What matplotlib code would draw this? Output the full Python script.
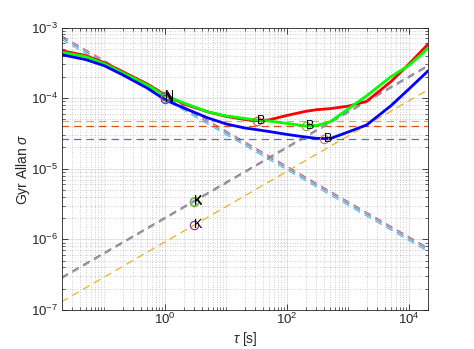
import numpy as np
import matplotlib
matplotlib.use("Agg")
import matplotlib.pyplot as plt
from matplotlib.ticker import LogLocator, NullFormatter, FixedLocator

plt.rcParams["font.family"] = ["Liberation Sans", "DejaVu Sans"]
plt.rcParams["mathtext.fontset"] = "custom"
plt.rcParams["mathtext.rm"] = "Liberation Sans"
plt.rcParams["mathtext.it"] = "Liberation Sans:italic"

# Averaging times [s]
tau = [0.02, 0.05, 0.1, 0.2, 0.5, 1, 2, 5, 10, 20, 30, 50, 100, 200, 300,
       500, 1000, 2000, 5000, 1e4, 2e4]

# Allan deviation of the three gyro axes
adev_x = [4.71e-4, 4.00e-4, 3.18e-4, 2.37e-4, 1.60e-4, 1.11e-4, 8.30e-5, 6.38e-5,
          5.51e-5, 4.99e-5, 4.78e-5, 4.91e-5, 5.70e-5, 6.50e-5, 6.85e-5, 7.10e-5,
          7.70e-5, 9.00e-5, 1.71e-4, 3.07e-4, 5.73e-4]
adev_y = [4.48e-4, 3.87e-4, 3.07e-4, 2.29e-4, 1.55e-4, 1.08e-4, 8.57e-5, 6.38e-5,
          5.60e-5, 5.16e-5, 4.91e-5, 4.75e-5, 4.38e-5, 4.04e-5, 4.10e-5, 4.60e-5,
          7.05e-5, 1.08e-4, 2.01e-4, 2.93e-4, 5.03e-4]
adev_z = [4.13e-4, 3.51e-4, 2.88e-4, 2.14e-4, 1.40e-4, 9.46e-5, 7.28e-5, 5.25e-5,
          4.31e-5, 3.78e-5, 3.60e-5, 3.37e-5, 3.06e-5, 2.81e-5, 2.70e-5, 2.66e-5,
          3.32e-5, 4.17e-5, 7.80e-5, 1.36e-4, 2.40e-4]

# Noise coefficients per axis (x, y, z)
N = [1.08e-4, 1.02e-4, 0.96e-4]        # angle random walk, read at tau = 1 s
K = [1.60e-6, 3.55e-6, 3.40e-6]        # rate random walk, read at tau = 3 s
B_level = [4.78e-5, 4.04e-5, 2.68e-5]  # bias instability level (0.664 B)
tau_B = [31.6, 200, 400]
tau_N = 1.0
tau_K = 3.0

curve_colors = ["#FF0000", "#00FF00", "#0000FF"]
n_colors = ["#B0708C", "#7C8DB8", "#5BC0E8"]
k_colors = ["#EDB120", "#8E6AA0", "#8C9C90"]
b_colors = ["#EDB120", "#D95319", "#3F7CC8"]
n_marker = ["#C04060", "#4DBEEE", "#7E2F8E"]
k_marker = ["#7E2F8E", "#4DBEEE", "#77AC30"]
b_marker = ["#D95319", "#77AC30", "#D07080"]

fig = plt.figure(figsize=(4.74, 3.49), dpi=100)
ax = fig.add_axes([0.1308, 0.1117, 0.7728, 0.8095])

t = np.array(tau)
dash = (0, (6, 4))
for i in range(3):
    ax.loglog(t, N[i] / np.sqrt(t), linestyle=dash, color=n_colors[i], lw=0.9)
    ax.loglog(t, K[i] * np.sqrt(t / tau_K), linestyle=dash, color=k_colors[i], lw=0.9)
    ax.loglog(t, np.full_like(t, B_level[i]), linestyle=dash, color=b_colors[i], lw=0.9)

for d, c in zip([adev_x, adev_y, adev_z], curve_colors):
    ax.loglog(tau, d, color=c, lw=2.0)

for i in range(3):
    ax.plot(tau_N, N[i], "o", mfc="none", mec=n_marker[i], ms=6, mew=0.8)
    ax.plot(tau_K, K[i], "o", mfc="none", mec=k_marker[i], ms=6, mew=0.8)
    ax.plot(tau_B[i], B_level[i], "o", mfc="none", mec=b_marker[i], ms=6, mew=0.8)
    ax.text(tau_N, N[i], "N", fontsize=9, ha="left", va="center", color="k")
    ax.text(tau_K, K[i], "K", fontsize=9, ha="left", va="center", color="k")
    ax.text(tau_B[i], B_level[i], "B", fontsize=9, ha="left", va="center", color="k")

ax.set_xlim(0.0204, 2.05e4)
ax.set_ylim(1e-7, 1e-3)

ax.xaxis.set_major_locator(FixedLocator([1, 100, 1e4]))
ax.xaxis.set_minor_locator(LogLocator(base=10, subs=np.arange(1, 10), numticks=30))
ax.xaxis.set_minor_formatter(NullFormatter())
ax.yaxis.set_major_locator(LogLocator(base=10, numticks=10))
ax.yaxis.set_minor_locator(LogLocator(base=10, subs=np.arange(2, 10), numticks=30))
ax.yaxis.set_minor_formatter(NullFormatter())
ax.set_xticklabels([r"$10^{0}$", r"$10^{2}$", r"$10^{4}$"])

ax.grid(True, which="major", color="#262626", alpha=0.15, lw=0.6, ls="-")
ax.grid(True, which="minor", color="#262626", alpha=0.3, lw=0.6, ls=(0, (1, 2)))
ax.set_axisbelow(True)

ax.tick_params(which="both", direction="in", top=True, right=True, colors="#262626",
               labelsize=9.5)
ax.tick_params(axis="x", which="major", pad=1.5)
ax.tick_params(axis="y", which="major", pad=3)
ax.tick_params(which="major", length=4, width=0.6)
ax.tick_params(which="minor", length=2, width=0.5)
for s in ax.spines.values():
    s.set_color("#262626")
    s.set_linewidth(0.6)

ax.set_xlabel(r"$\tau$ [s]", fontsize=10, color="#262626", labelpad=2)
ax.set_ylabel(r"Gyr Allan $\sigma$", fontsize=10, color="#262626", labelpad=-1)

fig.savefig("out.png", dpi=100)
